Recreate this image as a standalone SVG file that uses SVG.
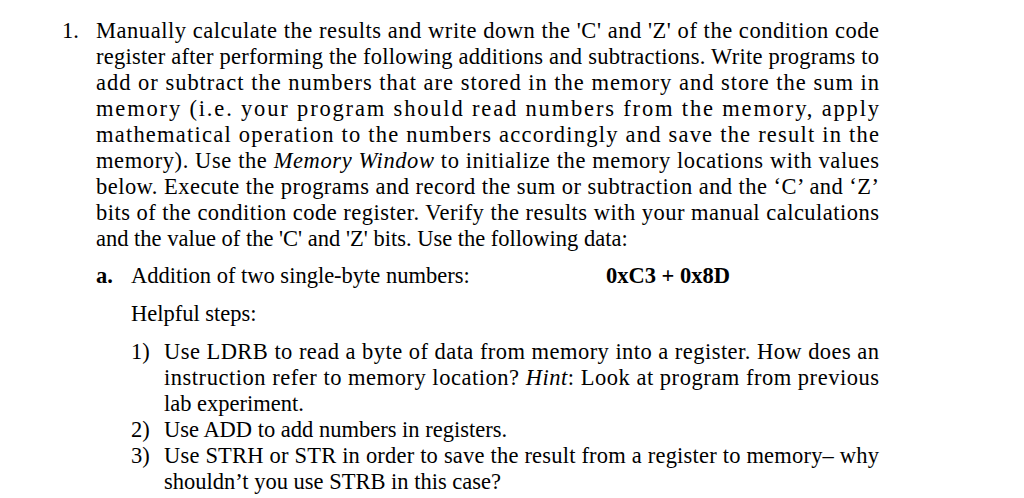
<svg xmlns="http://www.w3.org/2000/svg" width="1024" height="498" viewBox="0 0 1024 498">
<style>
text{font-family:"Liberation Serif","Times New Roman",serif;font-size:22.5px;fill:#000}
.b{font-weight:bold}
</style>
<rect width="1024" height="498" fill="#fff"/>
<g id="para">
<text x="62" y="38">1.</text>
<text x="96" y="38" textLength="783" lengthAdjust="spacing">Manually calculate the results and write down the 'C' and 'Z' of the condition code</text>
<text x="96" y="64" textLength="783" lengthAdjust="spacing">register after performing the following additions and subtractions. Write programs to</text>
<text x="96" y="90" textLength="783" lengthAdjust="spacing">add or subtract the numbers that are stored in the memory and store the sum in</text>
<text x="96" y="116" textLength="783" lengthAdjust="spacing">memory (i.e. your program should read numbers from the memory, apply</text>
<text x="96" y="142" textLength="783" lengthAdjust="spacing">mathematical operation to the numbers accordingly and save the result in the</text>
<text x="96" y="168" textLength="783" lengthAdjust="spacing">memory). Use the <tspan font-style="italic">Memory Window</tspan> to initialize the memory locations with values</text>
<text x="96" y="194" textLength="783" lengthAdjust="spacing">below. Execute the programs and record the sum or subtraction and the ‘C’ and ‘Z’</text>
<text x="96" y="220" textLength="783" lengthAdjust="spacing">bits of the condition code register. Verify the results with your manual calculations</text>
<text x="96" y="246">and the value of the 'C' and 'Z' bits. Use the following data:</text>
</g>
<g id="parta">
<text x="96" y="283" class="b">a.</text>
<text x="131" y="283">Addition of two single-byte numbers:</text>
<text x="606" y="283" class="b">0xC3 + 0x8D</text>
<text x="131" y="321">Helpful steps:</text>
<text x="131" y="359">1)</text>
<text x="164" y="359" textLength="715" lengthAdjust="spacing">Use LDRB to read a byte of data from memory into a register. How does an</text>
<text x="164" y="385" textLength="715" lengthAdjust="spacing">instruction refer to memory location? <tspan font-style="italic">Hint</tspan>: Look at program from previous</text>
<text x="164" y="411">lab experiment.</text>
<text x="131" y="437">2)</text>
<text x="164" y="437">Use ADD to add numbers in registers.</text>
<text x="131" y="463">3)</text>
<text x="164" y="463" textLength="715" lengthAdjust="spacing">Use STRH or STR in order to save the result from a register to memory– why</text>
<text x="164" y="489">shouldn’t you use STRB in this case?</text>
</g>
</svg>
